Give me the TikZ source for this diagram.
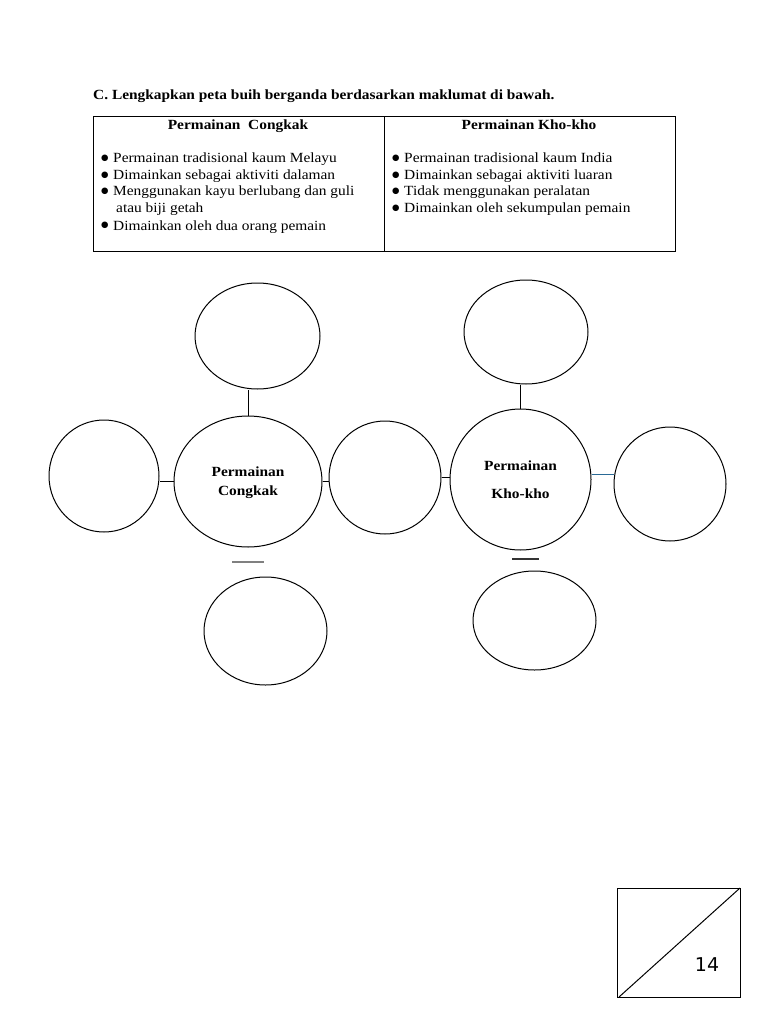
\documentclass[tikz,border=0pt]{standalone}
\usepackage{fontspec}
\setmainfont{Liberation Serif}[FakeStretch=1.1]
\newfontfamily\numfont{DejaVu Sans}
\usetikzlibrary{shapes.geometric}
\definecolor{linkblue}{HTML}{2A6A96}
\newcommand{\bul}{\makebox[12pt][l]{\raisebox{2.2pt}{\numfont\fontsize{8.5}{8.5}\selectfont ●}}}
\begin{document}
\begin{tikzpicture}[x=1pt,y=-1pt,
  bubble/.style={draw, ellipse, line width=1pt, inner sep=0pt},
  conn/.style={line width=1pt},
  txt/.style={anchor=base west, inner sep=0pt, font=\fontsize{14}{16}\selectfont},
  head/.style={anchor=base, inner sep=0pt, font=\fontsize{14}{16}\selectfont\bfseries},
  ctr/.style={anchor=base, inner sep=0pt, font=\fontsize{14}{16}\selectfont\bfseries}]
\useasboundingbox (0,0) rectangle (768,1024);

% title
\node[txt, font=\fontsize{14}{16}\selectfont\bfseries] (title) at (93,100) {C. Lengkapkan peta buih berganda berdasarkan maklumat di bawah.};

% table
\draw[line width=1pt] (93,117) rectangle (675,251);
\draw[line width=1pt] (384,117) -- (384,251);
\node[head] (h1) at (238,130) {Permainan\ \ Congkak};
\node[head] (h2) at (529,130) {Permainan Kho-kho};

\node[txt] (l1) at (101,163) {\bul Permainan tradisional kaum Melayu};
\node[txt] (l2) at (101,180) {\bul Dimainkan sebagai aktiviti dalaman};
\node[txt] (l3) at (101,196) {\bul Menggunakan kayu berlubang dan guli};
\node[txt] (l4) at (116,213) {atau biji getah};
\node[txt] (l5) at (101,230) {\bul Dimainkan oleh dua orang pemain};

\node[txt] (r1) at (392,163) {\bul Permainan tradisional kaum India};
\node[txt] (r2) at (392,180) {\bul Dimainkan sebagai aktiviti luaran};
\node[txt] (r3) at (392,196) {\bul Tidak menggunakan peralatan};
\node[txt] (r4) at (392,213) {\bul Dimainkan oleh sekumpulan pemain};

% bubbles
\node[bubble, minimum width=125pt, minimum height=106pt] (ctop) at (257.5,336) {};
\node[bubble, minimum width=148pt, minimum height=131pt] (cc) at (248,481.5) {};
\node[bubble, minimum width=110pt, minimum height=112pt] (cleft) at (104,476) {};
\node[bubble, minimum width=123pt, minimum height=108pt] (cbot) at (265.5,631) {};
\node[bubble, minimum width=112pt, minimum height=113pt] (mid) at (385,477.5) {};
\node[bubble, minimum width=141pt, minimum height=141pt] (kk) at (520.5,479.5) {};
\node[bubble, minimum width=124pt, minimum height=104pt] (ktop) at (526,332) {};
\node[bubble, minimum width=112pt, minimum height=114pt] (kright) at (670,484) {};
\node[bubble, minimum width=123pt, minimum height=99pt] (kbot) at (534.5,620.5) {};

\node[ctr] (cct1) at (248,476) {Permainan};
\node[ctr] (cct2) at (248,495) {Congkak};
\node[ctr] (kkt1) at (520.5,470) {Permainan};
\node[ctr] (kkt2) at (520.5,498) {Kho-kho};

% connectors
\draw[conn] (cc.north) -- (cc.north |- ctop.south);
\draw[conn] (cc.west) -- (cc.west -| cleft.east);
\draw[conn] (cc.east) -- (mid.west |- cc.east);
\draw[conn] (mid.east) -- (kk.west |- mid.east);
\draw[conn] (kk.north) -- (kk.north |- ktop.south);
\coordinate (kb) at ([yshift=5.5pt]kk.east);
\draw[conn, linkblue] (kb) -- (kb -| kright.west);

% loose dashes under the centre bubbles
\coordinate (cg1) at (232,562);
\coordinate (cg2) at (264,562);
\draw[line width=1.3pt, gray] (cg1) -- (cg2);
\coordinate (kg1) at (512,559);
\coordinate (kg2) at (539,559);
\draw[line width=1.3pt, black!80] (kg1) -- (kg2);

% mark box
\draw[line width=1pt] (617,888) rectangle (740,997);
\coordinate (bx1) at (619,997);
\coordinate (bx2) at (740,888);
\draw[line width=1pt] (bx1) -- (bx2);
\node[inner sep=0pt, font=\numfont\fontsize{19}{20}\selectfont] (num) at (707,965) {14};
\end{tikzpicture}
\end{document}
